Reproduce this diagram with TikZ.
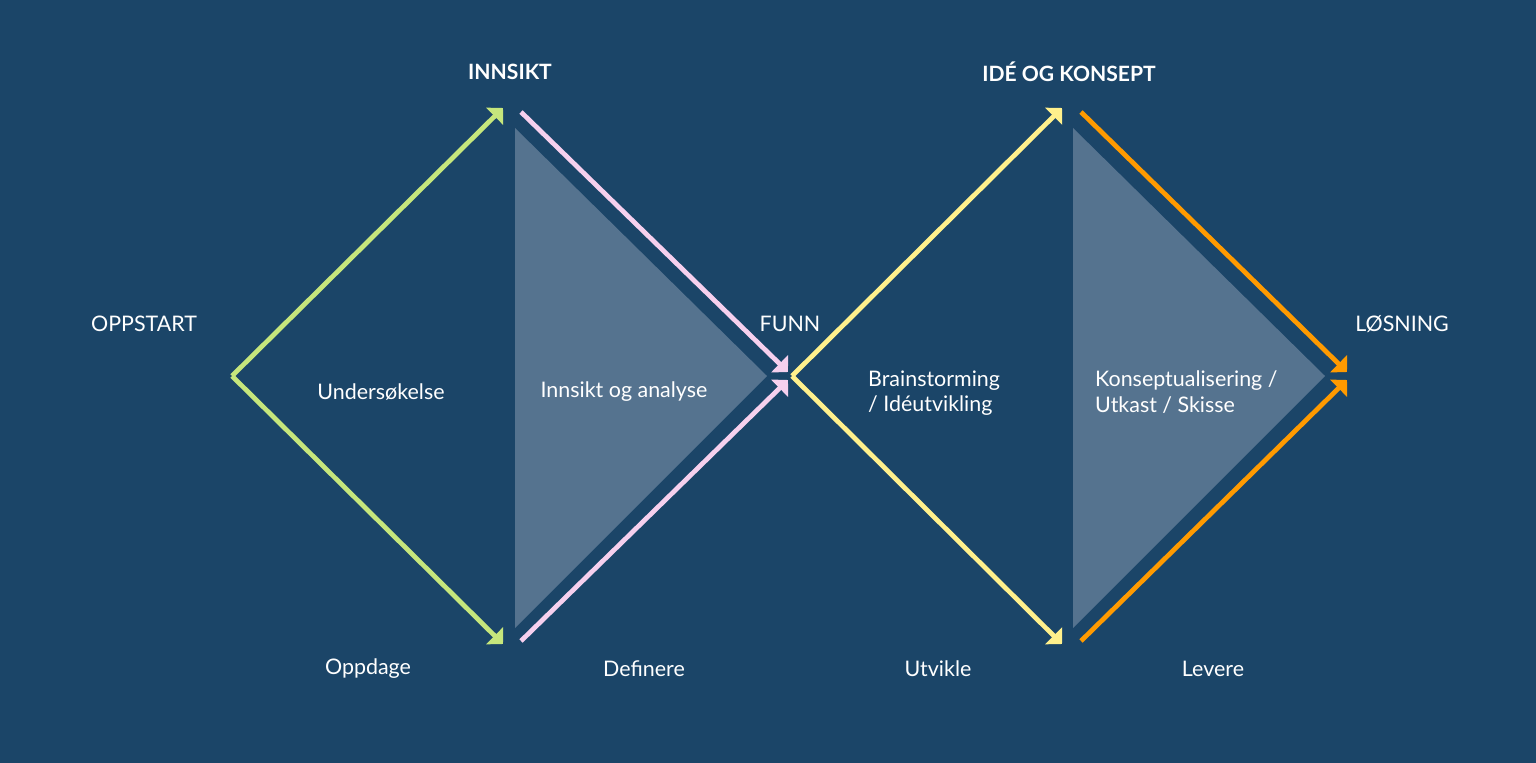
\documentclass[tikz,border=0pt]{standalone}
\usepackage{fontspec}
\setmainfont{Lato}
\usetikzlibrary{arrows.meta}
\definecolor{bakgrunn}{HTML}{1B4568}
\definecolor{flate}{HTML}{55738F}
\definecolor{gronn}{HTML}{C6E67C}
\definecolor{rosa}{HTML}{F6D0EE}
\definecolor{gul}{HTML}{FFF08C}
\definecolor{oransje}{HTML}{FF9A00}
\begin{document}
\begin{tikzpicture}[
        x=0.02cm,y=-0.02cm,
        linje/.style={line width=2.7pt,line cap=butt,
                      -{Triangle[angle=90:9.5pt]}},
        tekst/.style={text=white,font=\fontsize{12.2}{14.5}\selectfont},
        tittel/.style={tekst,font=\fontsize{12}{14.5}\selectfont\bfseries}]
        \fill[bakgrunn] (0,0) rectangle (1536,763);
        \useasboundingbox (0,0) rectangle (1536,763);
        % flater
        \fill[flate] (515,128) -- (767,376) -- (515,628) -- cycle;
        \fill[flate] (1073,128) -- (1325,376) -- (1073,628) -- cycle;
        % punkter
        \coordinate (start) at (232,376);
        \coordinate (innT) at (503,108);
        \coordinate (innB) at (503,644);
        \coordinate (defT) at (521,112);
        \coordinate (defB) at (521,641);
        \coordinate (funnT) at (788,372);
        \coordinate (funnB) at (788,380);
        \coordinate (funn) at (792,376);
        \coordinate (ideT) at (1062,108);
        \coordinate (ideB) at (1062,644);
        \coordinate (levT) at (1081,112);
        \coordinate (levB) at (1081,641);
        \coordinate (slutT) at (1347,372);
        \coordinate (slutB) at (1347,380);
        % linjer
        \draw[linje,gronn] (start)--(innT);
        \draw[linje,gronn] (start)--(innB);
        \draw[linje,rosa] (defT)--(funnT);
        \draw[linje,rosa] (defB)--(funnB);
        \draw[linje,gul] (funn)--(ideT);
        \draw[linje,gul] (funn)--(ideB);
        \draw[linje,oransje] (levT)--(slutT);
        \draw[linje,oransje] (levB)--(slutB);
        % tekster
        \node[tittel] (innsikt) at (510,72) {INNSIKT};
        \node[tittel] (ide) at (1069,72) {IDÉ OG KONSEPT};
        \node[tekst] (oppstart) at (144,324) {OPPSTART};
        \node[tekst] (funnt) at (790,324) {FUNN};
        \node[tekst] (losning) at (1402,324) {LØSNING};
        \node[tekst] (unders) at (381,392) {Undersøkelse};
        \node[tekst] (analyse) at (624,392) {Innsikt og analyse};
        \node[tekst,anchor=west,align=left] (brain) at (862,393)
          {Brainstorming\\/ Idéutvikling};
        \node[tekst,anchor=west,align=left] (konsept) at (1089,392)
          {Konseptualisering /\\Utkast / Skisse};
        \node[tekst] (oppdage) at (368,669) {Oppdage};
        \node[tekst] (definere) at (644,669) {Definere};
        \node[tekst] (utvikle) at (938,669) {Utvikle};
        \node[tekst] (levere) at (1213,669) {Levere};
      \end{tikzpicture}
\end{document}
